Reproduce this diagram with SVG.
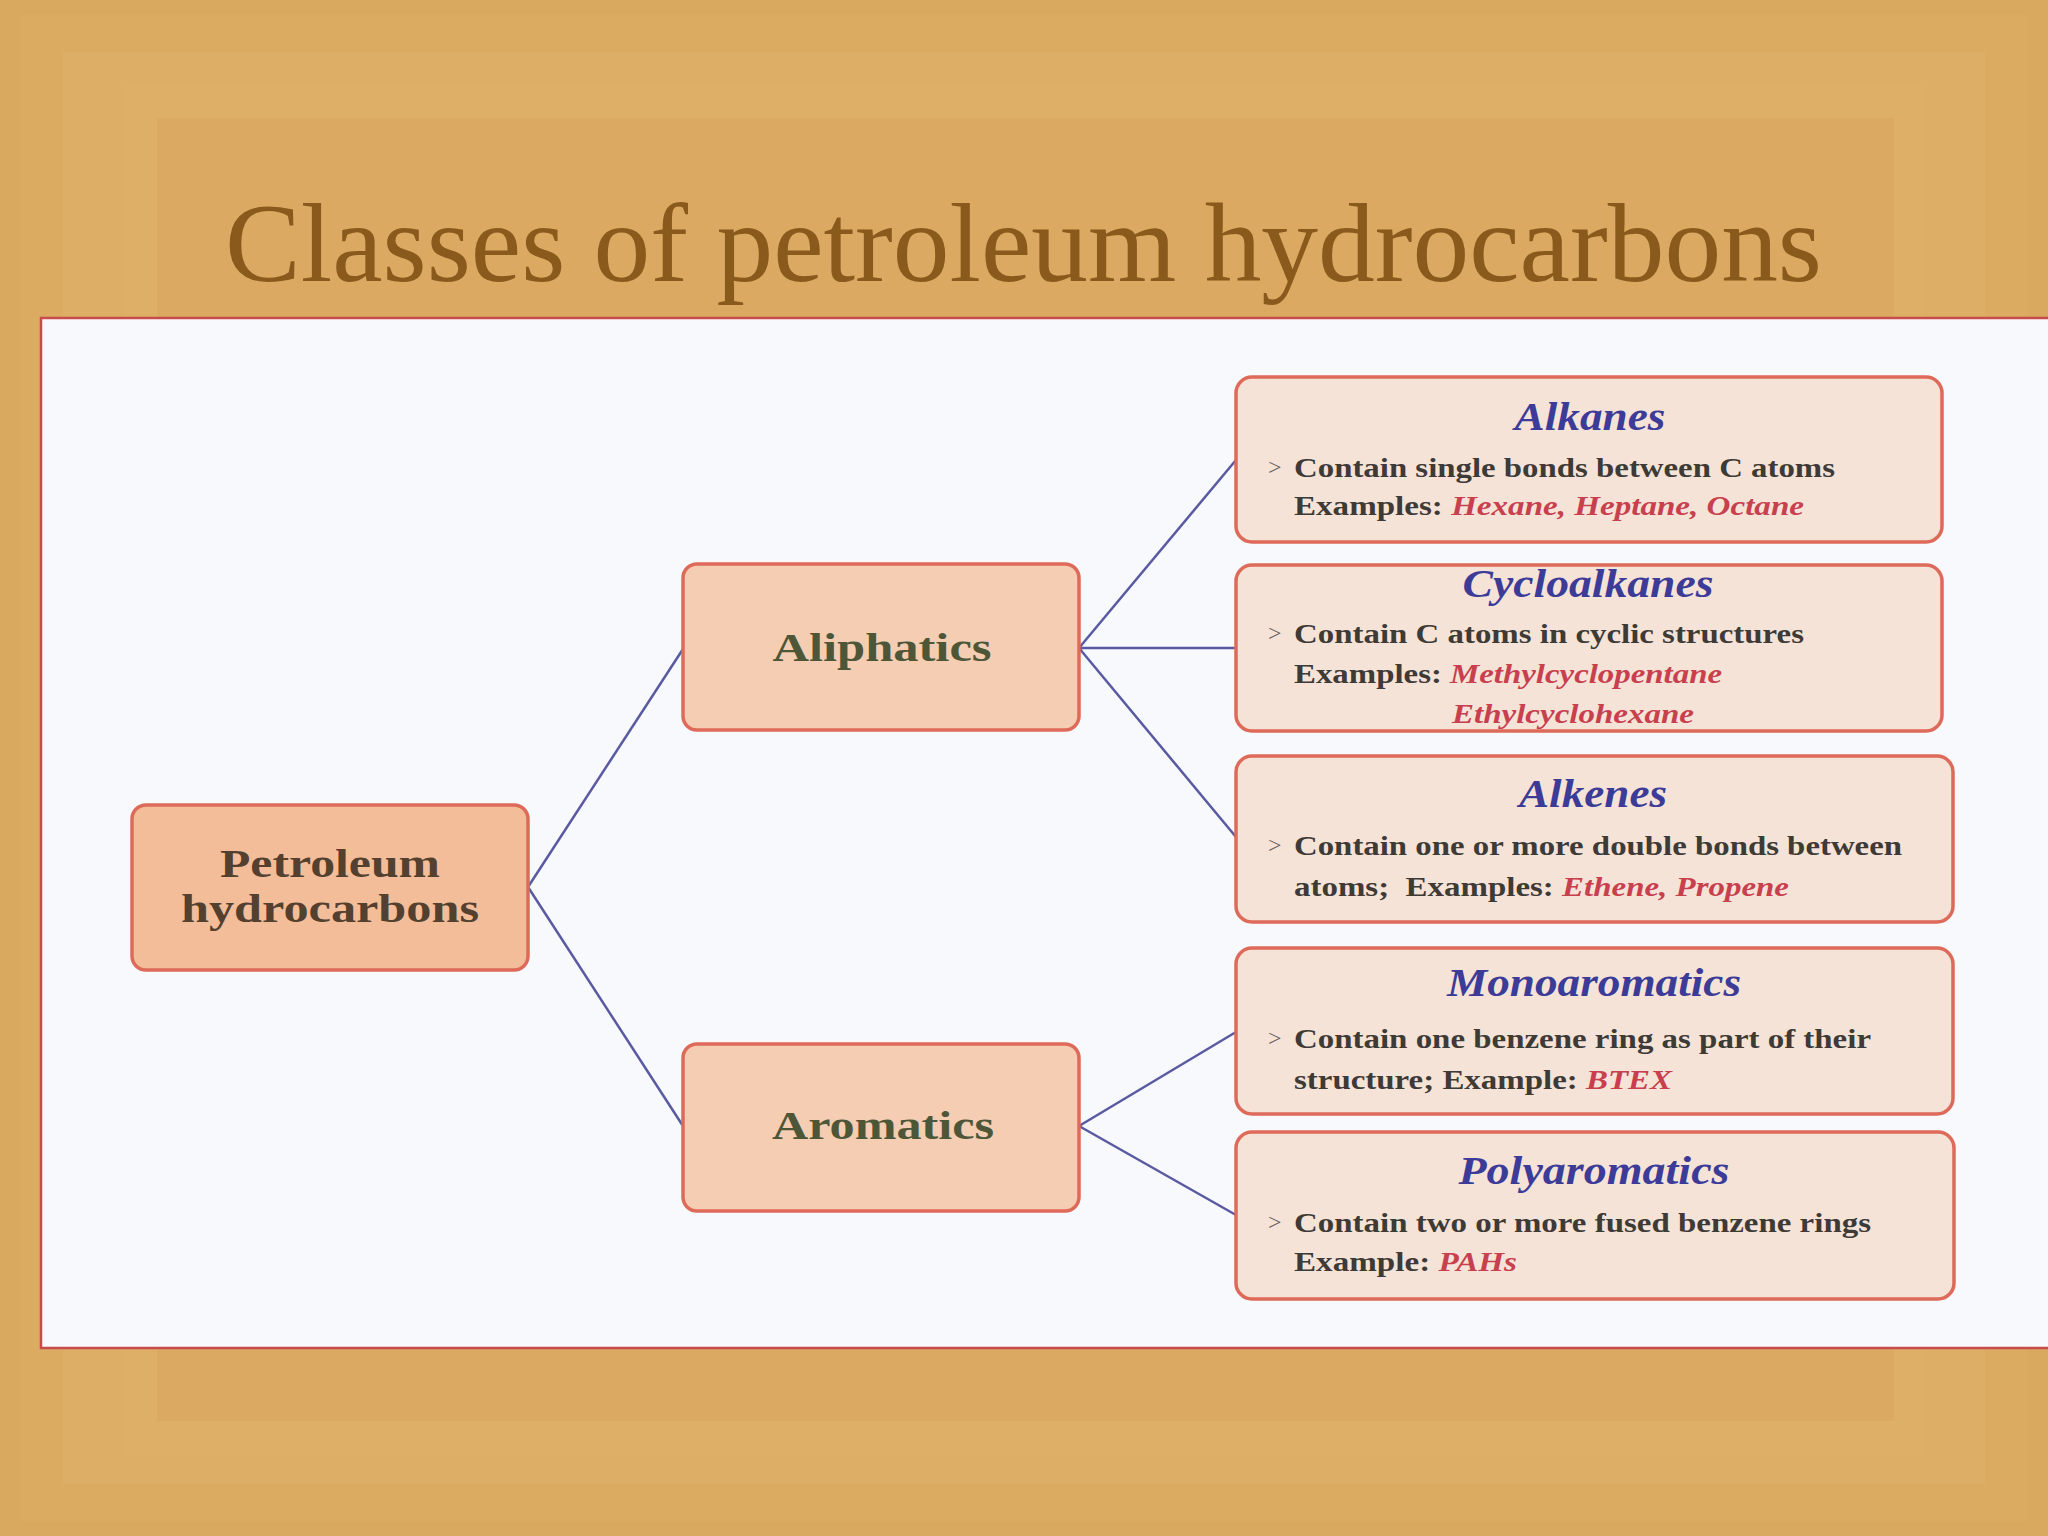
<svg xmlns="http://www.w3.org/2000/svg" width="2048" height="1536" viewBox="0 0 2048 1536">
<defs>
<style>
.nodeL{fill:#F3BD99;stroke:#DE6A5A;stroke-width:3.5}
.nodeM{fill:#F4CDB2;stroke:#DE6A5A;stroke-width:3.5}
.nodeR{fill:#F6E3D8;stroke:#DE6A5A;stroke-width:3.5}
.nt{font-family:"Liberation Serif",serif;font-weight:bold;font-size:40px;text-anchor:middle}
.ttl{font-family:"Liberation Serif",serif;font-weight:bold;font-style:italic;font-size:40px;fill:#3C3C98;text-anchor:middle}
.body{font-family:"Liberation Serif",serif;font-weight:bold;font-size:27px;fill:#3E3A36}
.ex{font-style:italic;fill:#C8404E}
.gt{font-family:"Liberation Serif",serif;font-size:24px;fill:#6A6060}
.conn line{stroke:#5A5AA2;stroke-width:2.5}
</style>
</defs>
<g id="background">
<rect x="0" y="0" width="2048" height="1536" fill="#D8A95E"/>
<rect x="20" y="15" width="2008" height="1506" fill="#DAAB61"/>
<rect x="63" y="52" width="1922" height="1432" fill="#DDAE65"/>
<rect x="124" y="85" width="1800" height="1370" fill="#DEAF66"/>
<rect x="157" y="118" width="1737" height="1303" fill="#DBA961"/>
</g>
<text id="title" x="225" y="281" font-family="Liberation Serif, serif" font-size="113" fill="#8A5A1C" textLength="1597" lengthAdjust="spacingAndGlyphs">Classes of petroleum hydrocarbons</text>
<rect id="panel" x="41" y="318" width="2010" height="1030" fill="#F8F9FC" stroke="#C84C4C" stroke-width="2.5"/>
<g id="connectors" class="conn">
<line x1="528" y1="887" x2="683" y2="649"/>
<line x1="528" y1="887" x2="683" y2="1126"/>
<line x1="1079" y1="648" x2="1236" y2="460"/>
<line x1="1079" y1="648" x2="1236" y2="648"/>
<line x1="1079" y1="648" x2="1236" y2="837"/>
<line x1="1079" y1="1126" x2="1236" y2="1032"/>
<line x1="1079" y1="1126" x2="1236" y2="1215"/>
</g>
<g id="petroleum">
<rect class="nodeL" x="132" y="805" width="396" height="165" rx="14"/>
<text class="nt" fill="#54402F" x="330" y="877" textLength="220" lengthAdjust="spacingAndGlyphs">Petroleum</text>
<text class="nt" fill="#54402F" x="330" y="922" textLength="298" lengthAdjust="spacingAndGlyphs">hydrocarbons</text>
</g>
<g id="aliphatics">
<rect class="nodeM" x="683" y="564" width="396" height="166" rx="14"/>
<text class="nt" fill="#4E5638" x="882" y="661" textLength="219" lengthAdjust="spacingAndGlyphs">Aliphatics</text>
</g>
<g id="aromatics">
<rect class="nodeM" x="683" y="1044" width="396" height="167" rx="14"/>
<text class="nt" fill="#4E5638" x="883" y="1139" textLength="222" lengthAdjust="spacingAndGlyphs">Aromatics</text>
</g>
<g id="alkanes">
<rect class="nodeR" x="1236" y="377" width="706" height="165" rx="16"/>
<text class="ttl" x="1590" y="430" textLength="151" lengthAdjust="spacingAndGlyphs">Alkanes</text>
<text class="gt" x="1268" y="475">&gt;</text>
<text class="body" x="1294" y="477" textLength="541" lengthAdjust="spacingAndGlyphs">Contain single bonds between C atoms</text>
<text class="body" x="1294" y="515" textLength="510" lengthAdjust="spacingAndGlyphs">Examples: <tspan class="ex">Hexane, Heptane, Octane</tspan></text>
</g>
<g id="cycloalkanes">
<rect class="nodeR" x="1236" y="565" width="706" height="166" rx="16"/>
<text class="ttl" x="1588" y="597" textLength="251" lengthAdjust="spacingAndGlyphs">Cycloalkanes</text>
<text class="gt" x="1268" y="641">&gt;</text>
<text class="body" x="1294" y="643" textLength="510" lengthAdjust="spacingAndGlyphs">Contain C atoms in cyclic structures</text>
<text class="body" x="1294" y="683" textLength="428" lengthAdjust="spacingAndGlyphs">Examples: <tspan class="ex">Methylcyclopentane</tspan></text>
<text class="body ex" x="1452" y="723" textLength="242" lengthAdjust="spacingAndGlyphs">Ethylcyclohexane</text>
</g>
<g id="alkenes">
<rect class="nodeR" x="1236" y="756" width="717" height="166" rx="16"/>
<text class="ttl" x="1593" y="807" textLength="148" lengthAdjust="spacingAndGlyphs">Alkenes</text>
<text class="gt" x="1268" y="853">&gt;</text>
<text class="body" x="1294" y="855" textLength="608" lengthAdjust="spacingAndGlyphs">Contain one or more double bonds between</text>
<text class="body" x="1294" y="896" textLength="495" lengthAdjust="spacingAndGlyphs">atoms;&#160; Examples: <tspan class="ex">Ethene, Propene</tspan></text>
</g>
<g id="monoaromatics">
<rect class="nodeR" x="1236" y="948" width="717" height="166" rx="16"/>
<text class="ttl" x="1594" y="996" textLength="294" lengthAdjust="spacingAndGlyphs">Monoaromatics</text>
<text class="gt" x="1268" y="1046">&gt;</text>
<text class="body" x="1294" y="1048" textLength="577" lengthAdjust="spacingAndGlyphs">Contain one benzene ring as part of their</text>
<text class="body" x="1294" y="1089" textLength="378" lengthAdjust="spacingAndGlyphs">structure; Example: <tspan class="ex">BTEX</tspan></text>
</g>
<g id="polyaromatics">
<rect class="nodeR" x="1236" y="1132" width="718" height="167" rx="16"/>
<text class="ttl" x="1594" y="1184" textLength="271" lengthAdjust="spacingAndGlyphs">Polyaromatics</text>
<text class="gt" x="1268" y="1230">&gt;</text>
<text class="body" x="1294" y="1232" textLength="577" lengthAdjust="spacingAndGlyphs">Contain two or more fused benzene rings</text>
<text class="body" x="1294" y="1271" textLength="223" lengthAdjust="spacingAndGlyphs">Example: <tspan class="ex">PAHs</tspan></text>
</g>
</svg>
